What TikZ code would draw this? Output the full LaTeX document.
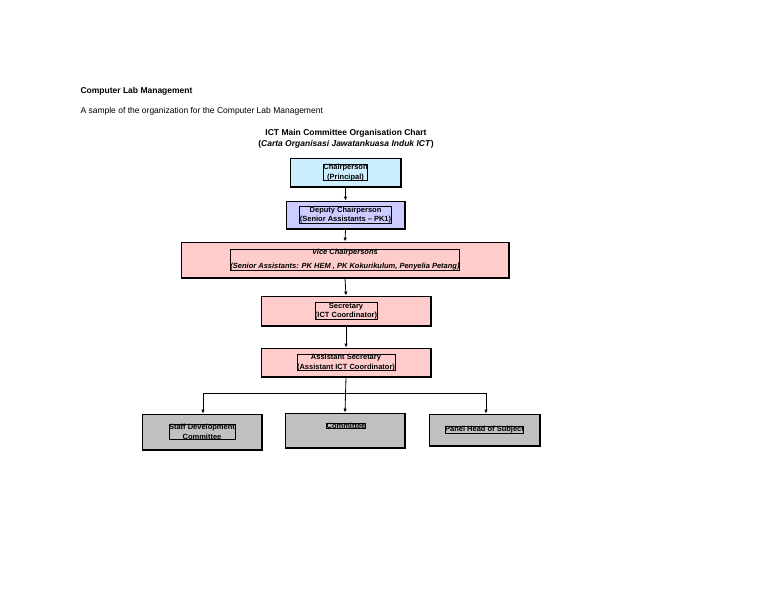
\documentclass[tikz,border=0pt]{standalone}
\usepackage{fontspec}
\setmainfont{Liberation Sans}
\usetikzlibrary{arrows.meta}
\definecolor{cy}{HTML}{CCEEFF}
\definecolor{lv}{HTML}{CCCCFF}
\definecolor{pk}{HTML}{FFCCCC}
\definecolor{gr}{HTML}{C0C0C0}
\begin{document}
\begin{tikzpicture}[x=1pt,y=-1pt,
  bx/.style={draw=black,line width=0.8pt,inner sep=0pt,align=center,font=\fontsize{7.5}{9.5}\selectfont\bfseries},
  shd/.style={draw=black,line width=1.6pt},
  arr/.style={-{Latex[length=4pt,width=3.5pt]},line width=0.8pt}]
\useasboundingbox (0,0) rectangle (768,594);
\node[anchor=west,font=\fontsize{8.5}{10}\selectfont\bfseries] (h) at (77,91) {Computer Lab Management};
\node[anchor=west,font=\fontsize{8.5}{10}\selectfont] (s) at (77,111) {A sample of the organization for the Computer Lab Management};
\node[align=center,font=\fontsize{8.5}{10.5}\selectfont\bfseries] (t) at (346,139) {ICT Main Committee Organisation Chart\\(\textit{Carta Organisasi Jawatankuasa Induk  ICT})};
\newcommand\boxat[6]{%
  \fill[#5] (#1,#2) rectangle (#3,#4);
  \draw[line width=0.8pt] (#1,#2) rectangle (#3,#4);
  \draw[shd] (#1,#4) -- (#3,#4) -- (#3,#2);
  \node[bx,draw=none,minimum width=#3pt-#1pt,minimum height=#4pt-#2pt] (#6) at ({(#1+#3)/2},{(#2+#4)/2}) {};}
\boxat{290}{158}{401}{187}{cy}{c}
\node[bx] at (c) {Chairperson\\(Principal)};
\boxat{286}{201}{405}{229}{lv}{d}
\node[bx] at (d) {Deputy Chairperson\\(Senior Assistants -- PK1)};
\boxat{181}{242}{509}{278}{pk}{v}
\node[bx,font=\fontsize{7.5}{14}\selectfont\bfseries\itshape] at (v) {Vice Chairpersons\\(Senior Assistants:  PK HEM ,  PK Kokurikulum, Penyelia Petang)};
\boxat{261}{296}{431}{326}{pk}{se}
\node[bx] at (se) {Secretary\\(ICT Coordinator)};
\boxat{261}{348}{431}{377}{pk}{as}
\node[bx] at (as) {Assistant Secretary\\(Assistant ICT Coordinator)};
\boxat{142}{414}{262}{450}{gr}{sd}
\node[bx] at (sd) {Staff Development\\Committee};
\boxat{285}{413}{405}{448}{gr}{cm}
\node[bx] at (346,426) {Committee};
\boxat{429}{414}{540}{446}{gr}{ph}
\node[bx] at (ph) {Panel Head of Subject};
\draw[arr] (c.south) -- (d.north);
\draw[arr] (d.south) -- (v.north);
\draw[arr] (v.south) -- (se.north);
\draw[arr] (se.south) -- (as.north);
\draw[arr] (as.south) -- (cm.north);
\coordinate (j1) at (203,393);
\coordinate (j2) at (486,393);
\draw[line width=0.8pt] (j1) -- (j2);
\draw[arr] (j1) -- (j1|-sd.north);
\draw[arr] (j2) -- (j2|-ph.north);
\end{tikzpicture}
\end{document}
